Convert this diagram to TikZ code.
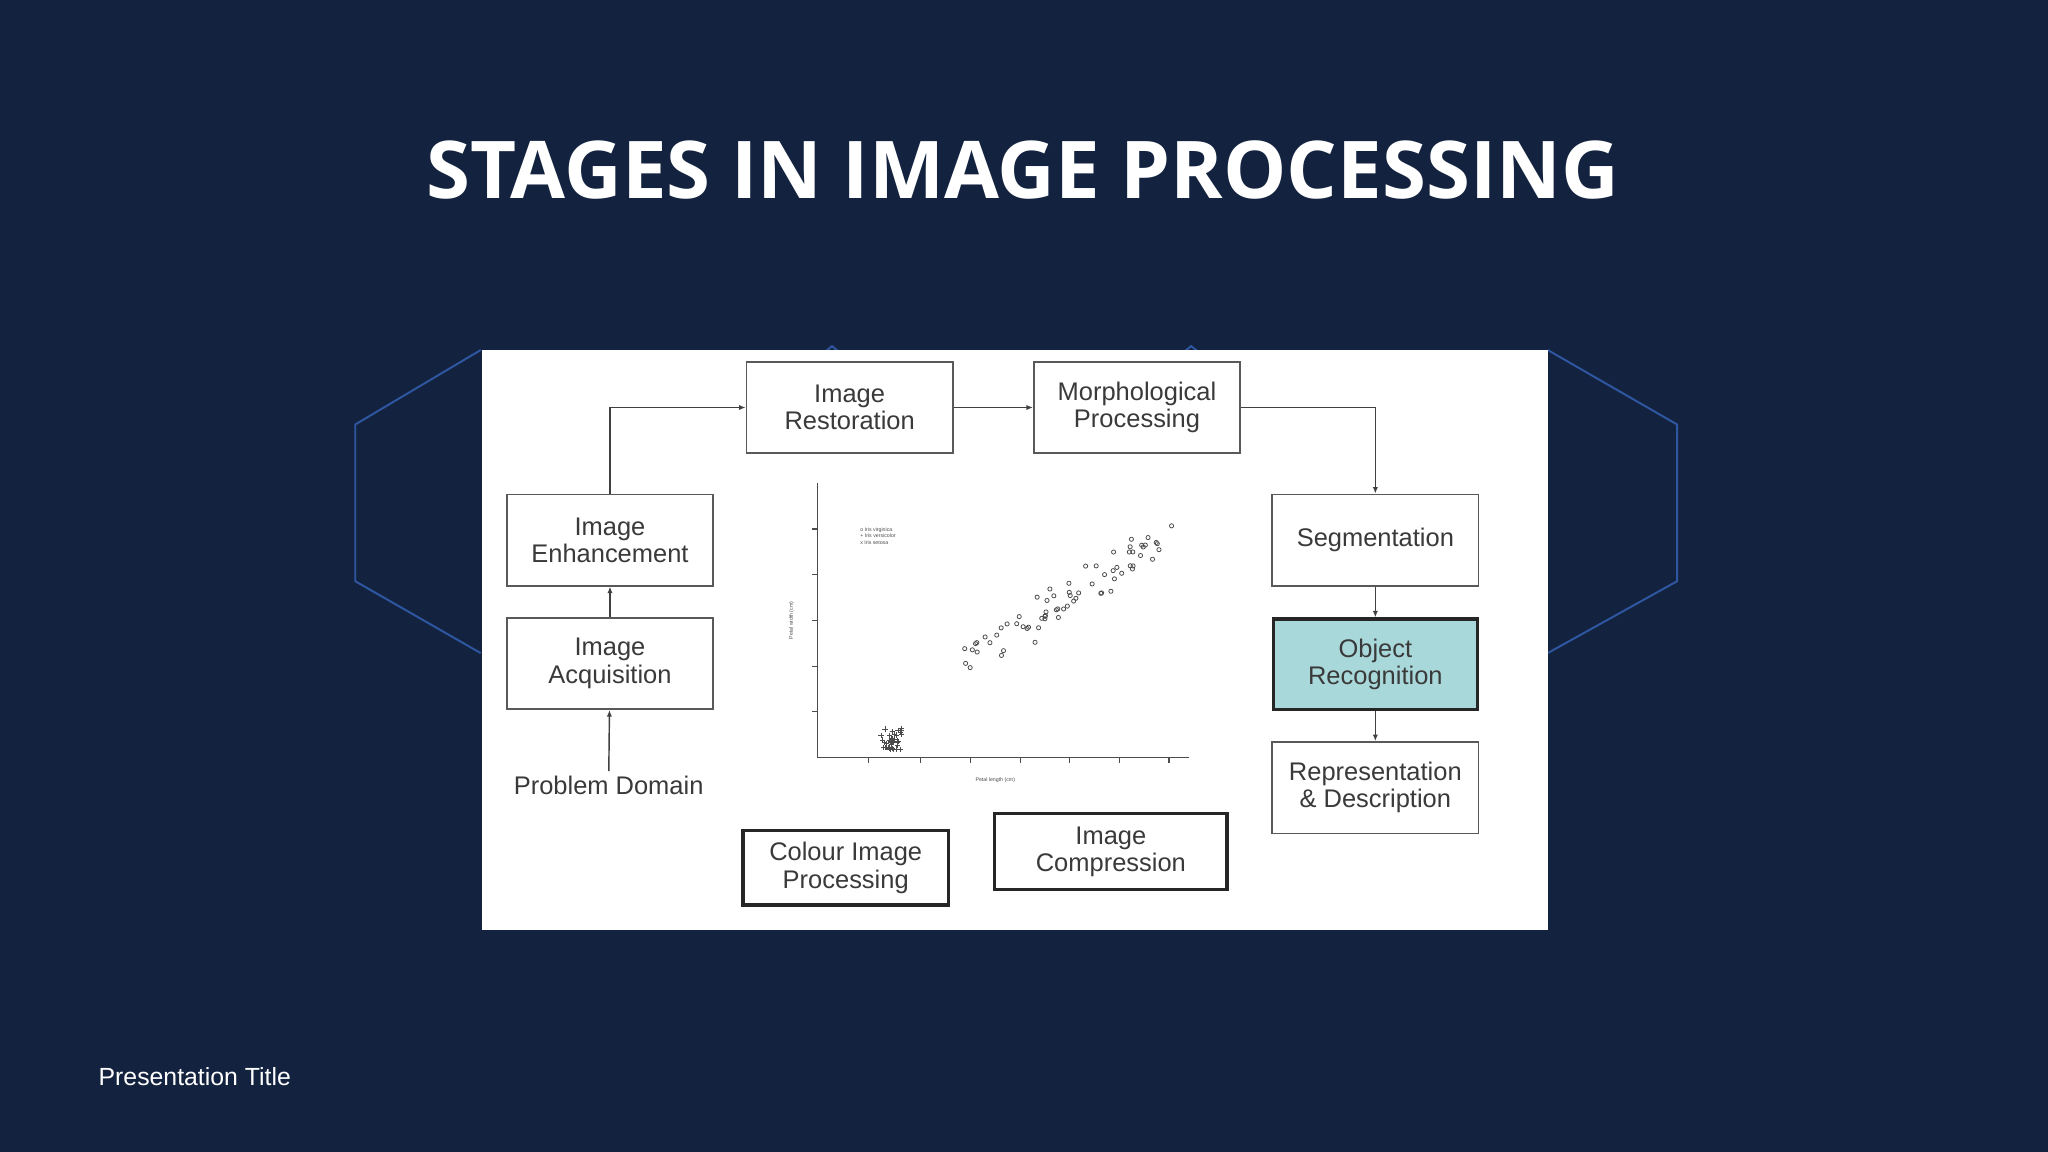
\documentclass[tikz,border=0pt]{standalone}
\usepackage{fontspec}
\setmainfont{Liberation Sans}
\newfontfamily\titlefont{Open Sans}
\usetikzlibrary{arrows.meta}
\definecolor{bgc}{HTML}{13233F}
\definecolor{hexc}{HTML}{2F56A0}
\definecolor{txc}{HTML}{3A3A3A}
\definecolor{objc}{HTML}{A9D8DA}
\tikzset{
 stage/.style={draw=gray!70!black,line width=1.2pt,fill=white,minimum width=158pt,minimum height=70pt,align=center,text=txc,font=\fontsize{19.5}{21}\selectfont,inner sep=0pt},
 heavy/.style={draw=black!85,line width=2.6pt},
 conn/.style={draw=black!75,line width=1.1pt,-{Latex[length=5pt,width=4pt]}},
}
\begin{document}
\begin{tikzpicture}[x=1pt,y=-1pt]
\fill[bgc] (0,0) rectangle (1568,882);
\useasboundingbox (0,0) rectangle (1568,882);
\draw[hexc,line width=1.5pt] (368,268) -- (272,325) -- (272,445) -- (368,500);
\draw[hexc,line width=1.5pt] (1185,268) -- (1284,325) -- (1284,445) -- (1185,500);
\draw[hexc,line width=1.5pt] (632,269) -- (637,265) -- (642,269) (907,269) -- (912,265) -- (917,269);
\node[text=white,font=\titlefont\bfseries\fontsize{61}{66}\selectfont] (title) at (783,130) {STAGES IN IMAGE PROCESSING};
\node[text=white,font=\fontsize{19}{21}\selectfont,anchor=west] (pt) at (72,824) {Presentation Title};
\fill[white] (369,268) rectangle (1185,712);
\node[stage] (rest) at (650.5,312) {Image\\Restoration};
\node[stage] (morph) at (870.5,312) {Morphological\\Processing};
\node[stage] (enh) at (467,413.5) {Image\\Enhancement};
\node[stage] (acq) at (467,508) {Image\\Acquisition};
\node[text=txc,font=\fontsize{19.5}{21}\selectfont] (pd) at (466,601) {Problem Domain};
\node[stage] (seg) at (1053,413.5) {Segmentation};
\node[stage,heavy,fill=objc,minimum width=156pt,minimum height=69pt] (obj) at (1053,508.5) {Object\\Recognition};
\node[stage] (rep) at (1053,603) {Representation\\\& Description};
\node[stage,heavy,minimum width=157pt,minimum height=57pt] (col) at (647.5,664.5) {Colour Image\\Processing};
\node[stage,heavy,minimum width=178pt,minimum height=58pt] (comp) at (850.5,652) {Image\\Compression};
\draw[conn] (pd) -- (acq);
\draw[conn] (acq) -- (enh);
\draw[conn] (enh.north) |- (rest.west);
\draw[conn] (rest) -- (morph);
\draw[conn] (morph.east) -| (seg.north);
\draw[conn] (seg) -- (obj);
\draw[conn] (obj) -- (rep);
% scatter plot
\begin{scope}[gray!60!black,line width=0.8pt]
\coordinate (o) at (626,580);
\draw (626,370) -- (o) -- (910,580);
\foreach \y in {405,440,475,510,545} {\draw (622,\y) -- (626,\y);}
\foreach \x in {665,705,743,781,819,857,895} {\draw (\x,580) -- (\x,584);}
\node[font=\fontsize{4}{5}\selectfont,rotate=90] (yl) at (606,475) {Petal width (cm)};
\node[font=\fontsize{4}{5}\selectfont] (xl) at (762,597) {Petal length (cm)};
\node[font=\fontsize{4}{5}\selectfont,align=left,anchor=north west] (leg) at (655,400) {o  Iris virginica\\+  Iris versicolor\\x  Iris setosa};
\pgfmathsetseed{7}
\foreach \i in {1,...,40} {
 \pgfmathsetmacro\px{683+9*rand}\pgfmathsetmacro\py{566+8*rand}
 \draw[line width=0.6pt] (\px-2,\py) -- (\px+2,\py) (\px,\py-2) -- (\px,\py+2);}
\foreach \i in {1,...,70} {
 \pgfmathsetmacro\t{rnd}
 \pgfmathsetmacro\px{745+145*\t+12*rand}\pgfmathsetmacro\py{505-95*\t+12*rand}
 \draw[line width=0.6pt] (\px,\py) circle (1.6pt);}
\end{scope}
\end{tikzpicture}
\end{document}
